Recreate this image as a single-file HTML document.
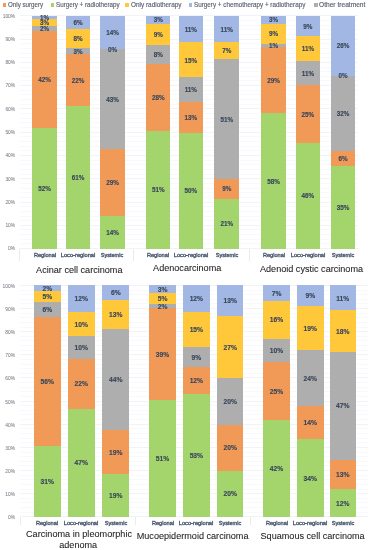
<!DOCTYPE html><html><head><meta charset="utf-8"><style>
html,body{margin:0;padding:0;background:#fff;width:370px;height:550px;overflow:hidden}
body{position:relative;filter:blur(0.3px);font-family:"Liberation Sans",sans-serif}
div{position:absolute}
.t{position:absolute;white-space:nowrap;line-height:1}
.t{-webkit-text-stroke:0.15px currentColor}
</style></head><body>
<div style="left:19.5px;top:15.30px;width:338.0px;height:1px;background:#F1F3F7"></div>
<div style="left:19.5px;top:19.96px;width:338.0px;height:1px;background:#F8F9FC"></div>
<div style="left:19.5px;top:24.61px;width:338.0px;height:1px;background:#F8F9FC"></div>
<div style="left:19.5px;top:29.27px;width:338.0px;height:1px;background:#F8F9FC"></div>
<div style="left:19.5px;top:33.92px;width:338.0px;height:1px;background:#F8F9FC"></div>
<div style="left:19.5px;top:38.58px;width:338.0px;height:1px;background:#F1F3F7"></div>
<div style="left:19.5px;top:43.24px;width:338.0px;height:1px;background:#F8F9FC"></div>
<div style="left:19.5px;top:47.89px;width:338.0px;height:1px;background:#F8F9FC"></div>
<div style="left:19.5px;top:52.55px;width:338.0px;height:1px;background:#F8F9FC"></div>
<div style="left:19.5px;top:57.20px;width:338.0px;height:1px;background:#F8F9FC"></div>
<div style="left:19.5px;top:61.86px;width:338.0px;height:1px;background:#F1F3F7"></div>
<div style="left:19.5px;top:66.52px;width:338.0px;height:1px;background:#F8F9FC"></div>
<div style="left:19.5px;top:71.17px;width:338.0px;height:1px;background:#F8F9FC"></div>
<div style="left:19.5px;top:75.83px;width:338.0px;height:1px;background:#F8F9FC"></div>
<div style="left:19.5px;top:80.48px;width:338.0px;height:1px;background:#F8F9FC"></div>
<div style="left:19.5px;top:85.14px;width:338.0px;height:1px;background:#F1F3F7"></div>
<div style="left:19.5px;top:89.80px;width:338.0px;height:1px;background:#F8F9FC"></div>
<div style="left:19.5px;top:94.45px;width:338.0px;height:1px;background:#F8F9FC"></div>
<div style="left:19.5px;top:99.11px;width:338.0px;height:1px;background:#F8F9FC"></div>
<div style="left:19.5px;top:103.76px;width:338.0px;height:1px;background:#F8F9FC"></div>
<div style="left:19.5px;top:108.42px;width:338.0px;height:1px;background:#F1F3F7"></div>
<div style="left:19.5px;top:113.08px;width:338.0px;height:1px;background:#F8F9FC"></div>
<div style="left:19.5px;top:117.73px;width:338.0px;height:1px;background:#F8F9FC"></div>
<div style="left:19.5px;top:122.39px;width:338.0px;height:1px;background:#F8F9FC"></div>
<div style="left:19.5px;top:127.04px;width:338.0px;height:1px;background:#F8F9FC"></div>
<div style="left:19.5px;top:131.70px;width:338.0px;height:1px;background:#F1F3F7"></div>
<div style="left:19.5px;top:136.36px;width:338.0px;height:1px;background:#F8F9FC"></div>
<div style="left:19.5px;top:141.01px;width:338.0px;height:1px;background:#F8F9FC"></div>
<div style="left:19.5px;top:145.67px;width:338.0px;height:1px;background:#F8F9FC"></div>
<div style="left:19.5px;top:150.32px;width:338.0px;height:1px;background:#F8F9FC"></div>
<div style="left:19.5px;top:154.98px;width:338.0px;height:1px;background:#F1F3F7"></div>
<div style="left:19.5px;top:159.64px;width:338.0px;height:1px;background:#F8F9FC"></div>
<div style="left:19.5px;top:164.29px;width:338.0px;height:1px;background:#F8F9FC"></div>
<div style="left:19.5px;top:168.95px;width:338.0px;height:1px;background:#F8F9FC"></div>
<div style="left:19.5px;top:173.60px;width:338.0px;height:1px;background:#F8F9FC"></div>
<div style="left:19.5px;top:178.26px;width:338.0px;height:1px;background:#F1F3F7"></div>
<div style="left:19.5px;top:182.92px;width:338.0px;height:1px;background:#F8F9FC"></div>
<div style="left:19.5px;top:187.57px;width:338.0px;height:1px;background:#F8F9FC"></div>
<div style="left:19.5px;top:192.23px;width:338.0px;height:1px;background:#F8F9FC"></div>
<div style="left:19.5px;top:196.88px;width:338.0px;height:1px;background:#F8F9FC"></div>
<div style="left:19.5px;top:201.54px;width:338.0px;height:1px;background:#F1F3F7"></div>
<div style="left:19.5px;top:206.20px;width:338.0px;height:1px;background:#F8F9FC"></div>
<div style="left:19.5px;top:210.85px;width:338.0px;height:1px;background:#F8F9FC"></div>
<div style="left:19.5px;top:215.51px;width:338.0px;height:1px;background:#F8F9FC"></div>
<div style="left:19.5px;top:220.16px;width:338.0px;height:1px;background:#F8F9FC"></div>
<div style="left:19.5px;top:224.82px;width:338.0px;height:1px;background:#F1F3F7"></div>
<div style="left:19.5px;top:229.48px;width:338.0px;height:1px;background:#F8F9FC"></div>
<div style="left:19.5px;top:234.13px;width:338.0px;height:1px;background:#F8F9FC"></div>
<div style="left:19.5px;top:238.79px;width:338.0px;height:1px;background:#F8F9FC"></div>
<div style="left:19.5px;top:243.44px;width:338.0px;height:1px;background:#F8F9FC"></div>
<div style="left:19.5px;top:248.10px;width:338.0px;height:1px;background:#F1F3F7"></div>
<div style="left:19.10px;top:248.60px;width:1px;height:12.90px;background:#EBEBEB"></div>
<div style="left:132.90px;top:248.60px;width:1px;height:12.90px;background:#EBEBEB"></div>
<div style="left:248.50px;top:248.60px;width:1px;height:12.90px;background:#EBEBEB"></div>
<span class="t" style="left:15.20px;top:16.60px;font-size:4.9px;color:#7A7F88;font-weight:400;transform-origin:100% 50%;transform:translate(-100%,-50%);-webkit-text-stroke:0.05px #7A7F88">100%</span>
<span class="t" style="left:15.20px;top:39.88px;font-size:4.9px;color:#7A7F88;font-weight:400;transform-origin:100% 50%;transform:translate(-100%,-50%);-webkit-text-stroke:0.05px #7A7F88">90%</span>
<span class="t" style="left:15.20px;top:63.16px;font-size:4.9px;color:#7A7F88;font-weight:400;transform-origin:100% 50%;transform:translate(-100%,-50%);-webkit-text-stroke:0.05px #7A7F88">80%</span>
<span class="t" style="left:15.20px;top:86.44px;font-size:4.9px;color:#7A7F88;font-weight:400;transform-origin:100% 50%;transform:translate(-100%,-50%);-webkit-text-stroke:0.05px #7A7F88">70%</span>
<span class="t" style="left:15.20px;top:109.72px;font-size:4.9px;color:#7A7F88;font-weight:400;transform-origin:100% 50%;transform:translate(-100%,-50%);-webkit-text-stroke:0.05px #7A7F88">60%</span>
<span class="t" style="left:15.20px;top:133.00px;font-size:4.9px;color:#7A7F88;font-weight:400;transform-origin:100% 50%;transform:translate(-100%,-50%);-webkit-text-stroke:0.05px #7A7F88">50%</span>
<span class="t" style="left:15.20px;top:156.28px;font-size:4.9px;color:#7A7F88;font-weight:400;transform-origin:100% 50%;transform:translate(-100%,-50%);-webkit-text-stroke:0.05px #7A7F88">40%</span>
<span class="t" style="left:15.20px;top:179.56px;font-size:4.9px;color:#7A7F88;font-weight:400;transform-origin:100% 50%;transform:translate(-100%,-50%);-webkit-text-stroke:0.05px #7A7F88">30%</span>
<span class="t" style="left:15.20px;top:202.84px;font-size:4.9px;color:#7A7F88;font-weight:400;transform-origin:100% 50%;transform:translate(-100%,-50%);-webkit-text-stroke:0.05px #7A7F88">20%</span>
<span class="t" style="left:15.20px;top:226.12px;font-size:4.9px;color:#7A7F88;font-weight:400;transform-origin:100% 50%;transform:translate(-100%,-50%);-webkit-text-stroke:0.05px #7A7F88">10%</span>
<span class="t" style="left:15.20px;top:249.40px;font-size:4.9px;color:#7A7F88;font-weight:400;transform-origin:100% 50%;transform:translate(-100%,-50%);-webkit-text-stroke:0.05px #7A7F88">0%</span>
<div style="left:19.6px;top:284.90px;width:348.4px;height:1px;background:#F1F3F7"></div>
<div style="left:19.6px;top:289.53px;width:348.4px;height:1px;background:#F8F9FC"></div>
<div style="left:19.6px;top:294.16px;width:348.4px;height:1px;background:#F8F9FC"></div>
<div style="left:19.6px;top:298.78px;width:348.4px;height:1px;background:#F8F9FC"></div>
<div style="left:19.6px;top:303.41px;width:348.4px;height:1px;background:#F8F9FC"></div>
<div style="left:19.6px;top:308.04px;width:348.4px;height:1px;background:#F1F3F7"></div>
<div style="left:19.6px;top:312.67px;width:348.4px;height:1px;background:#F8F9FC"></div>
<div style="left:19.6px;top:317.30px;width:348.4px;height:1px;background:#F8F9FC"></div>
<div style="left:19.6px;top:321.92px;width:348.4px;height:1px;background:#F8F9FC"></div>
<div style="left:19.6px;top:326.55px;width:348.4px;height:1px;background:#F8F9FC"></div>
<div style="left:19.6px;top:331.18px;width:348.4px;height:1px;background:#F1F3F7"></div>
<div style="left:19.6px;top:335.81px;width:348.4px;height:1px;background:#F8F9FC"></div>
<div style="left:19.6px;top:340.44px;width:348.4px;height:1px;background:#F8F9FC"></div>
<div style="left:19.6px;top:345.06px;width:348.4px;height:1px;background:#F8F9FC"></div>
<div style="left:19.6px;top:349.69px;width:348.4px;height:1px;background:#F8F9FC"></div>
<div style="left:19.6px;top:354.32px;width:348.4px;height:1px;background:#F1F3F7"></div>
<div style="left:19.6px;top:358.95px;width:348.4px;height:1px;background:#F8F9FC"></div>
<div style="left:19.6px;top:363.58px;width:348.4px;height:1px;background:#F8F9FC"></div>
<div style="left:19.6px;top:368.20px;width:348.4px;height:1px;background:#F8F9FC"></div>
<div style="left:19.6px;top:372.83px;width:348.4px;height:1px;background:#F8F9FC"></div>
<div style="left:19.6px;top:377.46px;width:348.4px;height:1px;background:#F1F3F7"></div>
<div style="left:19.6px;top:382.09px;width:348.4px;height:1px;background:#F8F9FC"></div>
<div style="left:19.6px;top:386.72px;width:348.4px;height:1px;background:#F8F9FC"></div>
<div style="left:19.6px;top:391.34px;width:348.4px;height:1px;background:#F8F9FC"></div>
<div style="left:19.6px;top:395.97px;width:348.4px;height:1px;background:#F8F9FC"></div>
<div style="left:19.6px;top:400.60px;width:348.4px;height:1px;background:#F1F3F7"></div>
<div style="left:19.6px;top:405.23px;width:348.4px;height:1px;background:#F8F9FC"></div>
<div style="left:19.6px;top:409.86px;width:348.4px;height:1px;background:#F8F9FC"></div>
<div style="left:19.6px;top:414.48px;width:348.4px;height:1px;background:#F8F9FC"></div>
<div style="left:19.6px;top:419.11px;width:348.4px;height:1px;background:#F8F9FC"></div>
<div style="left:19.6px;top:423.74px;width:348.4px;height:1px;background:#F1F3F7"></div>
<div style="left:19.6px;top:428.37px;width:348.4px;height:1px;background:#F8F9FC"></div>
<div style="left:19.6px;top:433.00px;width:348.4px;height:1px;background:#F8F9FC"></div>
<div style="left:19.6px;top:437.62px;width:348.4px;height:1px;background:#F8F9FC"></div>
<div style="left:19.6px;top:442.25px;width:348.4px;height:1px;background:#F8F9FC"></div>
<div style="left:19.6px;top:446.88px;width:348.4px;height:1px;background:#F1F3F7"></div>
<div style="left:19.6px;top:451.51px;width:348.4px;height:1px;background:#F8F9FC"></div>
<div style="left:19.6px;top:456.14px;width:348.4px;height:1px;background:#F8F9FC"></div>
<div style="left:19.6px;top:460.76px;width:348.4px;height:1px;background:#F8F9FC"></div>
<div style="left:19.6px;top:465.39px;width:348.4px;height:1px;background:#F8F9FC"></div>
<div style="left:19.6px;top:470.02px;width:348.4px;height:1px;background:#F1F3F7"></div>
<div style="left:19.6px;top:474.65px;width:348.4px;height:1px;background:#F8F9FC"></div>
<div style="left:19.6px;top:479.28px;width:348.4px;height:1px;background:#F8F9FC"></div>
<div style="left:19.6px;top:483.90px;width:348.4px;height:1px;background:#F8F9FC"></div>
<div style="left:19.6px;top:488.53px;width:348.4px;height:1px;background:#F8F9FC"></div>
<div style="left:19.6px;top:493.16px;width:348.4px;height:1px;background:#F1F3F7"></div>
<div style="left:19.6px;top:497.79px;width:348.4px;height:1px;background:#F8F9FC"></div>
<div style="left:19.6px;top:502.42px;width:348.4px;height:1px;background:#F8F9FC"></div>
<div style="left:19.6px;top:507.04px;width:348.4px;height:1px;background:#F8F9FC"></div>
<div style="left:19.6px;top:511.67px;width:348.4px;height:1px;background:#F8F9FC"></div>
<div style="left:19.6px;top:516.30px;width:348.4px;height:1px;background:#F1F3F7"></div>
<div style="left:19.70px;top:516.80px;width:1px;height:8.70px;background:#EBEBEB"></div>
<div style="left:134.90px;top:516.80px;width:1px;height:8.70px;background:#EBEBEB"></div>
<div style="left:249.60px;top:516.80px;width:1px;height:8.70px;background:#EBEBEB"></div>
<span class="t" style="left:15.10px;top:286.80px;font-size:4.9px;color:#7A7F88;font-weight:400;transform-origin:100% 50%;transform:translate(-100%,-50%);-webkit-text-stroke:0.05px #7A7F88">100%</span>
<span class="t" style="left:15.10px;top:309.94px;font-size:4.9px;color:#7A7F88;font-weight:400;transform-origin:100% 50%;transform:translate(-100%,-50%);-webkit-text-stroke:0.05px #7A7F88">90%</span>
<span class="t" style="left:15.10px;top:333.08px;font-size:4.9px;color:#7A7F88;font-weight:400;transform-origin:100% 50%;transform:translate(-100%,-50%);-webkit-text-stroke:0.05px #7A7F88">80%</span>
<span class="t" style="left:15.10px;top:356.22px;font-size:4.9px;color:#7A7F88;font-weight:400;transform-origin:100% 50%;transform:translate(-100%,-50%);-webkit-text-stroke:0.05px #7A7F88">70%</span>
<span class="t" style="left:15.10px;top:379.36px;font-size:4.9px;color:#7A7F88;font-weight:400;transform-origin:100% 50%;transform:translate(-100%,-50%);-webkit-text-stroke:0.05px #7A7F88">60%</span>
<span class="t" style="left:15.10px;top:402.50px;font-size:4.9px;color:#7A7F88;font-weight:400;transform-origin:100% 50%;transform:translate(-100%,-50%);-webkit-text-stroke:0.05px #7A7F88">50%</span>
<span class="t" style="left:15.10px;top:425.64px;font-size:4.9px;color:#7A7F88;font-weight:400;transform-origin:100% 50%;transform:translate(-100%,-50%);-webkit-text-stroke:0.05px #7A7F88">40%</span>
<span class="t" style="left:15.10px;top:448.78px;font-size:4.9px;color:#7A7F88;font-weight:400;transform-origin:100% 50%;transform:translate(-100%,-50%);-webkit-text-stroke:0.05px #7A7F88">30%</span>
<span class="t" style="left:15.10px;top:471.92px;font-size:4.9px;color:#7A7F88;font-weight:400;transform-origin:100% 50%;transform:translate(-100%,-50%);-webkit-text-stroke:0.05px #7A7F88">20%</span>
<span class="t" style="left:15.10px;top:495.06px;font-size:4.9px;color:#7A7F88;font-weight:400;transform-origin:100% 50%;transform:translate(-100%,-50%);-webkit-text-stroke:0.05px #7A7F88">10%</span>
<span class="t" style="left:15.10px;top:518.20px;font-size:4.9px;color:#7A7F88;font-weight:400;transform-origin:100% 50%;transform:translate(-100%,-50%);-webkit-text-stroke:0.05px #7A7F88">0%</span>
<div style="left:32.10px;top:15.80px;width:24.80px;height:232.80px;background:#A2B7E3"></div>
<div style="left:32.10px;top:18.60px;width:24.80px;height:230.00px;background:#FFC83B"></div>
<div style="left:32.10px;top:26.10px;width:24.80px;height:222.50px;background:#AEAEAE"></div>
<div style="left:32.10px;top:30.60px;width:24.80px;height:218.00px;background:#F19A58"></div>
<div style="left:32.10px;top:128.40px;width:24.80px;height:120.20px;background:#A4D56D"></div>
<span class="t" style="left:44.50px;top:189.10px;font-size:6.3px;color:#3A475B;font-weight:700;transform-origin:50% 50%;transform:translate(-50%,-50%)">52%</span>
<span class="t" style="left:44.50px;top:80.10px;font-size:6.3px;color:#3A475B;font-weight:700;transform-origin:50% 50%;transform:translate(-50%,-50%)">42%</span>
<span class="t" style="left:44.50px;top:28.95px;font-size:6.3px;color:#3A475B;font-weight:700;transform-origin:50% 50%;transform:translate(-50%,-50%)">2%</span>
<span class="t" style="left:44.50px;top:22.95px;font-size:6.3px;color:#3A475B;font-weight:700;transform-origin:50% 50%;transform:translate(-50%,-50%)">3%</span>
<span class="t" style="left:44.50px;top:17.80px;font-size:6.3px;color:#3A475B;font-weight:700;transform-origin:50% 50%;transform:translate(-50%,-50%)">1%</span>
<span class="t" style="left:44.50px;top:255.20px;font-size:6.0px;color:#44546A;font-weight:400;transform-origin:50% 50%;transform:translate(-50%,-50%) scaleX(0.9373);-webkit-text-stroke:0.35px #44546A">Regional</span>
<div style="left:65.80px;top:15.80px;width:24.70px;height:232.80px;background:#A2B7E3"></div>
<div style="left:65.80px;top:28.60px;width:24.70px;height:220.00px;background:#FFC83B"></div>
<div style="left:65.80px;top:48.00px;width:24.70px;height:200.60px;background:#AEAEAE"></div>
<div style="left:65.80px;top:54.40px;width:24.70px;height:194.20px;background:#F19A58"></div>
<div style="left:65.80px;top:106.30px;width:24.70px;height:142.30px;background:#A4D56D"></div>
<span class="t" style="left:78.15px;top:178.05px;font-size:6.3px;color:#3A475B;font-weight:700;transform-origin:50% 50%;transform:translate(-50%,-50%)">61%</span>
<span class="t" style="left:78.15px;top:80.95px;font-size:6.3px;color:#3A475B;font-weight:700;transform-origin:50% 50%;transform:translate(-50%,-50%)">22%</span>
<span class="t" style="left:78.15px;top:51.80px;font-size:6.3px;color:#3A475B;font-weight:700;transform-origin:50% 50%;transform:translate(-50%,-50%)">3%</span>
<span class="t" style="left:78.15px;top:38.90px;font-size:6.3px;color:#3A475B;font-weight:700;transform-origin:50% 50%;transform:translate(-50%,-50%)">8%</span>
<span class="t" style="left:78.15px;top:22.80px;font-size:6.3px;color:#3A475B;font-weight:700;transform-origin:50% 50%;transform:translate(-50%,-50%)">6%</span>
<span class="t" style="left:78.15px;top:255.20px;font-size:6.0px;color:#44546A;font-weight:400;transform-origin:50% 50%;transform:translate(-50%,-50%) scaleX(0.9516);-webkit-text-stroke:0.35px #44546A">Loco-regional</span>
<div style="left:100.00px;top:15.80px;width:24.90px;height:232.80px;background:#A2B7E3"></div>
<div style="left:100.00px;top:49.10px;width:24.90px;height:199.50px;background:#AEAEAE"></div>
<div style="left:100.00px;top:148.90px;width:24.90px;height:99.70px;background:#F19A58"></div>
<div style="left:100.00px;top:215.60px;width:24.90px;height:33.00px;background:#A4D56D"></div>
<span class="t" style="left:112.45px;top:232.70px;font-size:6.3px;color:#3A475B;font-weight:700;transform-origin:50% 50%;transform:translate(-50%,-50%)">14%</span>
<span class="t" style="left:112.45px;top:182.85px;font-size:6.3px;color:#3A475B;font-weight:700;transform-origin:50% 50%;transform:translate(-50%,-50%)">29%</span>
<span class="t" style="left:112.45px;top:99.60px;font-size:6.3px;color:#3A475B;font-weight:700;transform-origin:50% 50%;transform:translate(-50%,-50%)">43%</span>
<span class="t" style="left:112.45px;top:49.70px;font-size:6.3px;color:#3A475B;font-weight:700;transform-origin:50% 50%;transform:translate(-50%,-50%)">0%</span>
<span class="t" style="left:112.45px;top:33.05px;font-size:6.3px;color:#3A475B;font-weight:700;transform-origin:50% 50%;transform:translate(-50%,-50%)">14%</span>
<span class="t" style="left:112.45px;top:255.20px;font-size:6.0px;color:#44546A;font-weight:400;transform-origin:50% 50%;transform:translate(-50%,-50%) scaleX(0.9204);-webkit-text-stroke:0.35px #44546A">Systemic</span>
<span class="t" style="left:79.30px;top:270.70px;font-size:9.1px;color:#262626;font-weight:400;transform-origin:50% 50%;transform:translate(-50%,-50%);-webkit-text-stroke:0.08px #262626">Acinar cell carcinoma</span>
<div style="left:146.10px;top:15.80px;width:24.20px;height:232.80px;background:#A2B7E3"></div>
<div style="left:146.10px;top:23.90px;width:24.20px;height:224.70px;background:#FFC83B"></div>
<div style="left:146.10px;top:44.60px;width:24.20px;height:204.00px;background:#AEAEAE"></div>
<div style="left:146.10px;top:63.90px;width:24.20px;height:184.70px;background:#F19A58"></div>
<div style="left:146.10px;top:130.50px;width:24.20px;height:118.10px;background:#A4D56D"></div>
<span class="t" style="left:158.20px;top:190.15px;font-size:6.3px;color:#3A475B;font-weight:700;transform-origin:50% 50%;transform:translate(-50%,-50%)">51%</span>
<span class="t" style="left:158.20px;top:97.80px;font-size:6.3px;color:#3A475B;font-weight:700;transform-origin:50% 50%;transform:translate(-50%,-50%)">28%</span>
<span class="t" style="left:158.20px;top:54.85px;font-size:6.3px;color:#3A475B;font-weight:700;transform-origin:50% 50%;transform:translate(-50%,-50%)">8%</span>
<span class="t" style="left:158.20px;top:34.85px;font-size:6.3px;color:#3A475B;font-weight:700;transform-origin:50% 50%;transform:translate(-50%,-50%)">9%</span>
<span class="t" style="left:158.20px;top:20.45px;font-size:6.3px;color:#3A475B;font-weight:700;transform-origin:50% 50%;transform:translate(-50%,-50%)">3%</span>
<span class="t" style="left:158.20px;top:255.20px;font-size:6.0px;color:#44546A;font-weight:400;transform-origin:50% 50%;transform:translate(-50%,-50%) scaleX(0.9373);-webkit-text-stroke:0.35px #44546A">Regional</span>
<div style="left:178.60px;top:15.80px;width:24.50px;height:232.80px;background:#A2B7E3"></div>
<div style="left:178.60px;top:42.40px;width:24.50px;height:206.20px;background:#FFC83B"></div>
<div style="left:178.60px;top:77.40px;width:24.50px;height:171.20px;background:#AEAEAE"></div>
<div style="left:178.60px;top:102.30px;width:24.50px;height:146.30px;background:#F19A58"></div>
<div style="left:178.60px;top:132.50px;width:24.50px;height:116.10px;background:#A4D56D"></div>
<span class="t" style="left:190.85px;top:191.15px;font-size:6.3px;color:#3A475B;font-weight:700;transform-origin:50% 50%;transform:translate(-50%,-50%)">50%</span>
<span class="t" style="left:190.85px;top:118.00px;font-size:6.3px;color:#3A475B;font-weight:700;transform-origin:50% 50%;transform:translate(-50%,-50%)">13%</span>
<span class="t" style="left:190.85px;top:90.45px;font-size:6.3px;color:#3A475B;font-weight:700;transform-origin:50% 50%;transform:translate(-50%,-50%)">11%</span>
<span class="t" style="left:190.85px;top:60.50px;font-size:6.3px;color:#3A475B;font-weight:700;transform-origin:50% 50%;transform:translate(-50%,-50%)">15%</span>
<span class="t" style="left:190.85px;top:29.70px;font-size:6.3px;color:#3A475B;font-weight:700;transform-origin:50% 50%;transform:translate(-50%,-50%)">11%</span>
<span class="t" style="left:190.85px;top:255.20px;font-size:6.0px;color:#44546A;font-weight:400;transform-origin:50% 50%;transform:translate(-50%,-50%) scaleX(0.9516);-webkit-text-stroke:0.35px #44546A">Loco-regional</span>
<div style="left:214.20px;top:15.80px;width:25.00px;height:232.80px;background:#A2B7E3"></div>
<div style="left:214.20px;top:42.40px;width:25.00px;height:206.20px;background:#FFC83B"></div>
<div style="left:214.20px;top:59.30px;width:25.00px;height:189.30px;background:#AEAEAE"></div>
<div style="left:214.20px;top:178.70px;width:25.00px;height:69.90px;background:#F19A58"></div>
<div style="left:214.20px;top:198.90px;width:25.00px;height:49.70px;background:#A4D56D"></div>
<span class="t" style="left:226.70px;top:224.35px;font-size:6.3px;color:#3A475B;font-weight:700;transform-origin:50% 50%;transform:translate(-50%,-50%)">21%</span>
<span class="t" style="left:226.70px;top:189.40px;font-size:6.3px;color:#3A475B;font-weight:700;transform-origin:50% 50%;transform:translate(-50%,-50%)">9%</span>
<span class="t" style="left:226.70px;top:119.60px;font-size:6.3px;color:#3A475B;font-weight:700;transform-origin:50% 50%;transform:translate(-50%,-50%)">51%</span>
<span class="t" style="left:226.70px;top:51.45px;font-size:6.3px;color:#3A475B;font-weight:700;transform-origin:50% 50%;transform:translate(-50%,-50%)">7%</span>
<span class="t" style="left:226.70px;top:29.70px;font-size:6.3px;color:#3A475B;font-weight:700;transform-origin:50% 50%;transform:translate(-50%,-50%)">11%</span>
<span class="t" style="left:226.70px;top:255.20px;font-size:6.0px;color:#44546A;font-weight:400;transform-origin:50% 50%;transform:translate(-50%,-50%) scaleX(0.9204);-webkit-text-stroke:0.35px #44546A">Systemic</span>
<span class="t" style="left:187.20px;top:268.50px;font-size:9.1px;color:#262626;font-weight:400;transform-origin:50% 50%;transform:translate(-50%,-50%);-webkit-text-stroke:0.08px #262626">Adenocarcinoma</span>
<div style="left:261.20px;top:15.80px;width:24.60px;height:232.80px;background:#A2B7E3"></div>
<div style="left:261.20px;top:23.90px;width:24.60px;height:224.70px;background:#FFC83B"></div>
<div style="left:261.20px;top:43.80px;width:24.60px;height:204.80px;background:#AEAEAE"></div>
<div style="left:261.20px;top:46.60px;width:24.60px;height:202.00px;background:#F19A58"></div>
<div style="left:261.20px;top:113.30px;width:24.60px;height:135.30px;background:#A4D56D"></div>
<span class="t" style="left:273.50px;top:181.55px;font-size:6.3px;color:#3A475B;font-weight:700;transform-origin:50% 50%;transform:translate(-50%,-50%)">58%</span>
<span class="t" style="left:273.50px;top:80.55px;font-size:6.3px;color:#3A475B;font-weight:700;transform-origin:50% 50%;transform:translate(-50%,-50%)">29%</span>
<span class="t" style="left:273.50px;top:45.80px;font-size:6.3px;color:#3A475B;font-weight:700;transform-origin:50% 50%;transform:translate(-50%,-50%)">1%</span>
<span class="t" style="left:273.50px;top:34.45px;font-size:6.3px;color:#3A475B;font-weight:700;transform-origin:50% 50%;transform:translate(-50%,-50%)">9%</span>
<span class="t" style="left:273.50px;top:20.45px;font-size:6.3px;color:#3A475B;font-weight:700;transform-origin:50% 50%;transform:translate(-50%,-50%)">3%</span>
<span class="t" style="left:273.50px;top:255.20px;font-size:6.0px;color:#44546A;font-weight:400;transform-origin:50% 50%;transform:translate(-50%,-50%) scaleX(0.9373);-webkit-text-stroke:0.35px #44546A">Regional</span>
<div style="left:295.70px;top:15.80px;width:24.40px;height:232.80px;background:#A2B7E3"></div>
<div style="left:295.70px;top:36.10px;width:24.40px;height:212.50px;background:#FFC83B"></div>
<div style="left:295.70px;top:61.10px;width:24.40px;height:187.50px;background:#AEAEAE"></div>
<div style="left:295.70px;top:85.20px;width:24.40px;height:163.40px;background:#F19A58"></div>
<div style="left:295.70px;top:142.70px;width:24.40px;height:105.90px;background:#A4D56D"></div>
<span class="t" style="left:307.90px;top:196.25px;font-size:6.3px;color:#3A475B;font-weight:700;transform-origin:50% 50%;transform:translate(-50%,-50%)">46%</span>
<span class="t" style="left:307.90px;top:114.55px;font-size:6.3px;color:#3A475B;font-weight:700;transform-origin:50% 50%;transform:translate(-50%,-50%)">25%</span>
<span class="t" style="left:307.90px;top:73.75px;font-size:6.3px;color:#3A475B;font-weight:700;transform-origin:50% 50%;transform:translate(-50%,-50%)">11%</span>
<span class="t" style="left:307.90px;top:49.20px;font-size:6.3px;color:#3A475B;font-weight:700;transform-origin:50% 50%;transform:translate(-50%,-50%)">11%</span>
<span class="t" style="left:307.90px;top:26.55px;font-size:6.3px;color:#3A475B;font-weight:700;transform-origin:50% 50%;transform:translate(-50%,-50%)">9%</span>
<span class="t" style="left:307.90px;top:255.20px;font-size:6.0px;color:#44546A;font-weight:400;transform-origin:50% 50%;transform:translate(-50%,-50%) scaleX(0.9516);-webkit-text-stroke:0.35px #44546A">Loco-regional</span>
<div style="left:330.90px;top:15.80px;width:24.30px;height:232.80px;background:#A2B7E3"></div>
<div style="left:330.90px;top:75.80px;width:24.30px;height:172.80px;background:#AEAEAE"></div>
<div style="left:330.90px;top:151.20px;width:24.30px;height:97.40px;background:#F19A58"></div>
<div style="left:330.90px;top:166.30px;width:24.30px;height:82.30px;background:#A4D56D"></div>
<span class="t" style="left:343.05px;top:208.05px;font-size:6.3px;color:#3A475B;font-weight:700;transform-origin:50% 50%;transform:translate(-50%,-50%)">35%</span>
<span class="t" style="left:343.05px;top:159.35px;font-size:6.3px;color:#3A475B;font-weight:700;transform-origin:50% 50%;transform:translate(-50%,-50%)">6%</span>
<span class="t" style="left:343.05px;top:114.10px;font-size:6.3px;color:#3A475B;font-weight:700;transform-origin:50% 50%;transform:translate(-50%,-50%)">32%</span>
<span class="t" style="left:343.05px;top:76.40px;font-size:6.3px;color:#3A475B;font-weight:700;transform-origin:50% 50%;transform:translate(-50%,-50%)">0%</span>
<span class="t" style="left:343.05px;top:46.40px;font-size:6.3px;color:#3A475B;font-weight:700;transform-origin:50% 50%;transform:translate(-50%,-50%)">26%</span>
<span class="t" style="left:343.05px;top:255.20px;font-size:6.0px;color:#44546A;font-weight:400;transform-origin:50% 50%;transform:translate(-50%,-50%) scaleX(0.9204);-webkit-text-stroke:0.35px #44546A">Systemic</span>
<span class="t" style="left:311.50px;top:270.00px;font-size:9.1px;color:#262626;font-weight:400;transform-origin:50% 50%;transform:translate(-50%,-50%);-webkit-text-stroke:0.08px #262626">Adenoid cystic carcinoma</span>
<div style="left:33.80px;top:285.40px;width:27.00px;height:231.40px;background:#A2B7E3"></div>
<div style="left:33.80px;top:290.50px;width:27.00px;height:226.30px;background:#FFC83B"></div>
<div style="left:33.80px;top:302.40px;width:27.00px;height:214.40px;background:#AEAEAE"></div>
<div style="left:33.80px;top:316.90px;width:27.00px;height:199.90px;background:#F19A58"></div>
<div style="left:33.80px;top:446.20px;width:27.00px;height:70.60px;background:#A4D56D"></div>
<span class="t" style="left:47.30px;top:482.10px;font-size:6.7px;color:#3A475B;font-weight:700;transform-origin:50% 50%;transform:translate(-50%,-50%)">31%</span>
<span class="t" style="left:47.30px;top:382.15px;font-size:6.7px;color:#3A475B;font-weight:700;transform-origin:50% 50%;transform:translate(-50%,-50%)">56%</span>
<span class="t" style="left:47.30px;top:310.25px;font-size:6.7px;color:#3A475B;font-weight:700;transform-origin:50% 50%;transform:translate(-50%,-50%)">6%</span>
<span class="t" style="left:47.30px;top:297.05px;font-size:6.7px;color:#3A475B;font-weight:700;transform-origin:50% 50%;transform:translate(-50%,-50%)">5%</span>
<span class="t" style="left:47.30px;top:288.55px;font-size:6.7px;color:#3A475B;font-weight:700;transform-origin:50% 50%;transform:translate(-50%,-50%)">2%</span>
<span class="t" style="left:47.30px;top:523.40px;font-size:6.0px;color:#44546A;font-weight:400;transform-origin:50% 50%;transform:translate(-50%,-50%) scaleX(0.9373);-webkit-text-stroke:0.35px #44546A">Regional</span>
<div style="left:68.00px;top:285.40px;width:26.60px;height:231.40px;background:#A2B7E3"></div>
<div style="left:68.00px;top:312.10px;width:26.60px;height:204.70px;background:#FFC83B"></div>
<div style="left:68.00px;top:335.90px;width:26.60px;height:180.90px;background:#AEAEAE"></div>
<div style="left:68.00px;top:358.60px;width:26.60px;height:158.20px;background:#F19A58"></div>
<div style="left:68.00px;top:408.80px;width:26.60px;height:108.00px;background:#A4D56D"></div>
<span class="t" style="left:81.30px;top:463.40px;font-size:6.7px;color:#3A475B;font-weight:700;transform-origin:50% 50%;transform:translate(-50%,-50%)">47%</span>
<span class="t" style="left:81.30px;top:384.30px;font-size:6.7px;color:#3A475B;font-weight:700;transform-origin:50% 50%;transform:translate(-50%,-50%)">22%</span>
<span class="t" style="left:81.30px;top:347.85px;font-size:6.7px;color:#3A475B;font-weight:700;transform-origin:50% 50%;transform:translate(-50%,-50%)">10%</span>
<span class="t" style="left:81.30px;top:324.60px;font-size:6.7px;color:#3A475B;font-weight:700;transform-origin:50% 50%;transform:translate(-50%,-50%)">10%</span>
<span class="t" style="left:81.30px;top:299.35px;font-size:6.7px;color:#3A475B;font-weight:700;transform-origin:50% 50%;transform:translate(-50%,-50%)">12%</span>
<span class="t" style="left:81.30px;top:523.40px;font-size:6.0px;color:#44546A;font-weight:400;transform-origin:50% 50%;transform:translate(-50%,-50%) scaleX(0.9516);-webkit-text-stroke:0.35px #44546A">Loco-regional</span>
<div style="left:102.40px;top:285.40px;width:26.80px;height:231.40px;background:#A2B7E3"></div>
<div style="left:102.40px;top:299.90px;width:26.80px;height:216.90px;background:#FFC83B"></div>
<div style="left:102.40px;top:328.80px;width:26.80px;height:188.00px;background:#AEAEAE"></div>
<div style="left:102.40px;top:430.30px;width:26.80px;height:86.50px;background:#F19A58"></div>
<div style="left:102.40px;top:473.70px;width:26.80px;height:43.10px;background:#A4D56D"></div>
<span class="t" style="left:115.80px;top:495.85px;font-size:6.7px;color:#3A475B;font-weight:700;transform-origin:50% 50%;transform:translate(-50%,-50%)">19%</span>
<span class="t" style="left:115.80px;top:452.60px;font-size:6.7px;color:#3A475B;font-weight:700;transform-origin:50% 50%;transform:translate(-50%,-50%)">19%</span>
<span class="t" style="left:115.80px;top:380.15px;font-size:6.7px;color:#3A475B;font-weight:700;transform-origin:50% 50%;transform:translate(-50%,-50%)">44%</span>
<span class="t" style="left:115.80px;top:314.95px;font-size:6.7px;color:#3A475B;font-weight:700;transform-origin:50% 50%;transform:translate(-50%,-50%)">13%</span>
<span class="t" style="left:115.80px;top:293.25px;font-size:6.7px;color:#3A475B;font-weight:700;transform-origin:50% 50%;transform:translate(-50%,-50%)">6%</span>
<span class="t" style="left:115.80px;top:523.40px;font-size:6.0px;color:#44546A;font-weight:400;transform-origin:50% 50%;transform:translate(-50%,-50%) scaleX(0.9204);-webkit-text-stroke:0.35px #44546A">Systemic</span>
<span class="t" style="left:78.60px;top:534.90px;font-size:9.1px;color:#262626;font-weight:400;transform-origin:50% 50%;transform:translate(-50%,-50%) scaleX(1.0028);-webkit-text-stroke:0.08px #262626">Carcinoma in pleomorphic</span>
<div style="left:148.90px;top:285.40px;width:27.20px;height:231.40px;background:#A2B7E3"></div>
<div style="left:148.90px;top:292.80px;width:27.20px;height:224.00px;background:#FFC83B"></div>
<div style="left:148.90px;top:303.60px;width:27.20px;height:213.20px;background:#AEAEAE"></div>
<div style="left:148.90px;top:308.40px;width:27.20px;height:208.40px;background:#F19A58"></div>
<div style="left:148.90px;top:399.80px;width:27.20px;height:117.00px;background:#A4D56D"></div>
<span class="t" style="left:162.50px;top:458.90px;font-size:6.7px;color:#3A475B;font-weight:700;transform-origin:50% 50%;transform:translate(-50%,-50%)">51%</span>
<span class="t" style="left:162.50px;top:354.70px;font-size:6.7px;color:#3A475B;font-weight:700;transform-origin:50% 50%;transform:translate(-50%,-50%)">39%</span>
<span class="t" style="left:162.50px;top:306.60px;font-size:6.7px;color:#3A475B;font-weight:700;transform-origin:50% 50%;transform:translate(-50%,-50%)">2%</span>
<span class="t" style="left:162.50px;top:298.80px;font-size:6.7px;color:#3A475B;font-weight:700;transform-origin:50% 50%;transform:translate(-50%,-50%)">5%</span>
<span class="t" style="left:162.50px;top:289.70px;font-size:6.7px;color:#3A475B;font-weight:700;transform-origin:50% 50%;transform:translate(-50%,-50%)">3%</span>
<span class="t" style="left:162.50px;top:523.40px;font-size:6.0px;color:#44546A;font-weight:400;transform-origin:50% 50%;transform:translate(-50%,-50%) scaleX(0.9373);-webkit-text-stroke:0.35px #44546A">Regional</span>
<div style="left:183.00px;top:285.40px;width:26.70px;height:231.40px;background:#A2B7E3"></div>
<div style="left:183.00px;top:311.80px;width:26.70px;height:205.00px;background:#FFC83B"></div>
<div style="left:183.00px;top:347.30px;width:26.70px;height:169.50px;background:#AEAEAE"></div>
<div style="left:183.00px;top:367.40px;width:26.70px;height:149.40px;background:#F19A58"></div>
<div style="left:183.00px;top:394.20px;width:26.70px;height:122.60px;background:#A4D56D"></div>
<span class="t" style="left:196.35px;top:456.10px;font-size:6.7px;color:#3A475B;font-weight:700;transform-origin:50% 50%;transform:translate(-50%,-50%)">53%</span>
<span class="t" style="left:196.35px;top:381.40px;font-size:6.7px;color:#3A475B;font-weight:700;transform-origin:50% 50%;transform:translate(-50%,-50%)">12%</span>
<span class="t" style="left:196.35px;top:357.95px;font-size:6.7px;color:#3A475B;font-weight:700;transform-origin:50% 50%;transform:translate(-50%,-50%)">9%</span>
<span class="t" style="left:196.35px;top:330.15px;font-size:6.7px;color:#3A475B;font-weight:700;transform-origin:50% 50%;transform:translate(-50%,-50%)">15%</span>
<span class="t" style="left:196.35px;top:299.20px;font-size:6.7px;color:#3A475B;font-weight:700;transform-origin:50% 50%;transform:translate(-50%,-50%)">12%</span>
<span class="t" style="left:196.35px;top:523.40px;font-size:6.0px;color:#44546A;font-weight:400;transform-origin:50% 50%;transform:translate(-50%,-50%) scaleX(0.9516);-webkit-text-stroke:0.35px #44546A">Loco-regional</span>
<div style="left:216.90px;top:285.40px;width:26.50px;height:231.40px;background:#A2B7E3"></div>
<div style="left:216.90px;top:316.00px;width:26.50px;height:200.80px;background:#FFC83B"></div>
<div style="left:216.90px;top:377.90px;width:26.50px;height:138.90px;background:#AEAEAE"></div>
<div style="left:216.90px;top:424.60px;width:26.50px;height:92.20px;background:#F19A58"></div>
<div style="left:216.90px;top:470.90px;width:26.50px;height:45.90px;background:#A4D56D"></div>
<span class="t" style="left:230.15px;top:494.45px;font-size:6.7px;color:#3A475B;font-weight:700;transform-origin:50% 50%;transform:translate(-50%,-50%)">20%</span>
<span class="t" style="left:230.15px;top:448.35px;font-size:6.7px;color:#3A475B;font-weight:700;transform-origin:50% 50%;transform:translate(-50%,-50%)">20%</span>
<span class="t" style="left:230.15px;top:401.85px;font-size:6.7px;color:#3A475B;font-weight:700;transform-origin:50% 50%;transform:translate(-50%,-50%)">20%</span>
<span class="t" style="left:230.15px;top:347.55px;font-size:6.7px;color:#3A475B;font-weight:700;transform-origin:50% 50%;transform:translate(-50%,-50%)">27%</span>
<span class="t" style="left:230.15px;top:301.30px;font-size:6.7px;color:#3A475B;font-weight:700;transform-origin:50% 50%;transform:translate(-50%,-50%)">13%</span>
<span class="t" style="left:230.15px;top:523.40px;font-size:6.0px;color:#44546A;font-weight:400;transform-origin:50% 50%;transform:translate(-50%,-50%) scaleX(0.9204);-webkit-text-stroke:0.35px #44546A">Systemic</span>
<span class="t" style="left:192.60px;top:536.70px;font-size:9.1px;color:#262626;font-weight:400;transform-origin:50% 50%;transform:translate(-50%,-50%);-webkit-text-stroke:0.08px #262626">Mucoepidermoid carcinoma</span>
<div style="left:263.10px;top:285.40px;width:26.90px;height:231.40px;background:#A2B7E3"></div>
<div style="left:263.10px;top:300.70px;width:26.90px;height:216.10px;background:#FFC83B"></div>
<div style="left:263.10px;top:338.70px;width:26.90px;height:178.10px;background:#AEAEAE"></div>
<div style="left:263.10px;top:362.30px;width:26.90px;height:154.50px;background:#F19A58"></div>
<div style="left:263.10px;top:419.80px;width:26.90px;height:97.00px;background:#A4D56D"></div>
<span class="t" style="left:276.55px;top:468.90px;font-size:6.7px;color:#3A475B;font-weight:700;transform-origin:50% 50%;transform:translate(-50%,-50%)">42%</span>
<span class="t" style="left:276.55px;top:391.65px;font-size:6.7px;color:#3A475B;font-weight:700;transform-origin:50% 50%;transform:translate(-50%,-50%)">25%</span>
<span class="t" style="left:276.55px;top:351.10px;font-size:6.7px;color:#3A475B;font-weight:700;transform-origin:50% 50%;transform:translate(-50%,-50%)">10%</span>
<span class="t" style="left:276.55px;top:320.30px;font-size:6.7px;color:#3A475B;font-weight:700;transform-origin:50% 50%;transform:translate(-50%,-50%)">16%</span>
<span class="t" style="left:276.55px;top:293.65px;font-size:6.7px;color:#3A475B;font-weight:700;transform-origin:50% 50%;transform:translate(-50%,-50%)">7%</span>
<span class="t" style="left:276.55px;top:523.40px;font-size:6.0px;color:#44546A;font-weight:400;transform-origin:50% 50%;transform:translate(-50%,-50%) scaleX(0.9373);-webkit-text-stroke:0.35px #44546A">Regional</span>
<div style="left:297.00px;top:285.40px;width:26.50px;height:231.40px;background:#A2B7E3"></div>
<div style="left:297.00px;top:305.50px;width:26.50px;height:211.30px;background:#FFC83B"></div>
<div style="left:297.00px;top:350.40px;width:26.50px;height:166.40px;background:#AEAEAE"></div>
<div style="left:297.00px;top:405.60px;width:26.50px;height:111.20px;background:#F19A58"></div>
<div style="left:297.00px;top:439.10px;width:26.50px;height:77.70px;background:#A4D56D"></div>
<span class="t" style="left:310.25px;top:478.55px;font-size:6.7px;color:#3A475B;font-weight:700;transform-origin:50% 50%;transform:translate(-50%,-50%)">34%</span>
<span class="t" style="left:310.25px;top:422.95px;font-size:6.7px;color:#3A475B;font-weight:700;transform-origin:50% 50%;transform:translate(-50%,-50%)">14%</span>
<span class="t" style="left:310.25px;top:378.60px;font-size:6.7px;color:#3A475B;font-weight:700;transform-origin:50% 50%;transform:translate(-50%,-50%)">24%</span>
<span class="t" style="left:310.25px;top:328.55px;font-size:6.7px;color:#3A475B;font-weight:700;transform-origin:50% 50%;transform:translate(-50%,-50%)">19%</span>
<span class="t" style="left:310.25px;top:296.05px;font-size:6.7px;color:#3A475B;font-weight:700;transform-origin:50% 50%;transform:translate(-50%,-50%)">9%</span>
<span class="t" style="left:310.25px;top:523.40px;font-size:6.0px;color:#44546A;font-weight:400;transform-origin:50% 50%;transform:translate(-50%,-50%) scaleX(0.9516);-webkit-text-stroke:0.35px #44546A">Loco-regional</span>
<div style="left:329.60px;top:285.40px;width:26.20px;height:231.40px;background:#A2B7E3"></div>
<div style="left:329.60px;top:310.40px;width:26.20px;height:206.40px;background:#FFC83B"></div>
<div style="left:329.60px;top:351.80px;width:26.20px;height:165.00px;background:#AEAEAE"></div>
<div style="left:329.60px;top:459.50px;width:26.20px;height:57.30px;background:#F19A58"></div>
<div style="left:329.60px;top:489.30px;width:26.20px;height:27.50px;background:#A4D56D"></div>
<span class="t" style="left:342.70px;top:503.65px;font-size:6.7px;color:#3A475B;font-weight:700;transform-origin:50% 50%;transform:translate(-50%,-50%)">12%</span>
<span class="t" style="left:342.70px;top:475.00px;font-size:6.7px;color:#3A475B;font-weight:700;transform-origin:50% 50%;transform:translate(-50%,-50%)">13%</span>
<span class="t" style="left:342.70px;top:406.25px;font-size:6.7px;color:#3A475B;font-weight:700;transform-origin:50% 50%;transform:translate(-50%,-50%)">47%</span>
<span class="t" style="left:342.70px;top:331.70px;font-size:6.7px;color:#3A475B;font-weight:700;transform-origin:50% 50%;transform:translate(-50%,-50%)">18%</span>
<span class="t" style="left:342.70px;top:298.50px;font-size:6.7px;color:#3A475B;font-weight:700;transform-origin:50% 50%;transform:translate(-50%,-50%)">11%</span>
<span class="t" style="left:342.70px;top:523.40px;font-size:6.0px;color:#44546A;font-weight:400;transform-origin:50% 50%;transform:translate(-50%,-50%) scaleX(0.9204);-webkit-text-stroke:0.35px #44546A">Systemic</span>
<span class="t" style="left:312.60px;top:536.70px;font-size:9.1px;color:#262626;font-weight:400;transform-origin:50% 50%;transform:translate(-50%,-50%);-webkit-text-stroke:0.08px #262626">Squamous cell carcinoma</span>
<span class="t" style="left:78.20px;top:545.50px;font-size:9.1px;color:#262626;font-weight:400;transform-origin:50% 50%;transform:translate(-50%,-50%);-webkit-text-stroke:0.08px #262626">adenoma</span>
<div style="left:2.90px;top:2.90px;width:3.50px;height:3.70px;background:#F19A58"></div>
<span class="t" style="left:8.20px;top:4.60px;font-size:6.8px;color:#5B6170;font-weight:400;transform-origin:0 50%;transform:translate(0,-50%) scaleX(0.9132)">Only surgery</span>
<div style="left:50.70px;top:2.90px;width:3.50px;height:3.70px;background:#A4D56D"></div>
<span class="t" style="left:56.10px;top:4.60px;font-size:6.8px;color:#5B6170;font-weight:400;transform-origin:0 50%;transform:translate(0,-50%) scaleX(0.9184)">Surgery + radiotherapy</span>
<div style="left:125.30px;top:2.90px;width:3.50px;height:3.70px;background:#FFC83B"></div>
<span class="t" style="left:130.60px;top:4.60px;font-size:6.8px;color:#5B6170;font-weight:400;transform-origin:0 50%;transform:translate(0,-50%) scaleX(0.9427)">Only radiotherapy</span>
<div style="left:188.60px;top:2.90px;width:3.50px;height:3.70px;background:#A2B7E3"></div>
<span class="t" style="left:193.80px;top:4.60px;font-size:6.8px;color:#5B6170;font-weight:400;transform-origin:0 50%;transform:translate(0,-50%) scaleX(0.9268)">Surgery + chemotherapy + radiotherapy</span>
<div style="left:314.10px;top:2.90px;width:3.50px;height:3.70px;background:#AEAEAE"></div>
<span class="t" style="left:318.80px;top:4.60px;font-size:6.8px;color:#5B6170;font-weight:400;transform-origin:0 50%;transform:translate(0,-50%) scaleX(0.9744)">Other treatment</span>
</body></html>
